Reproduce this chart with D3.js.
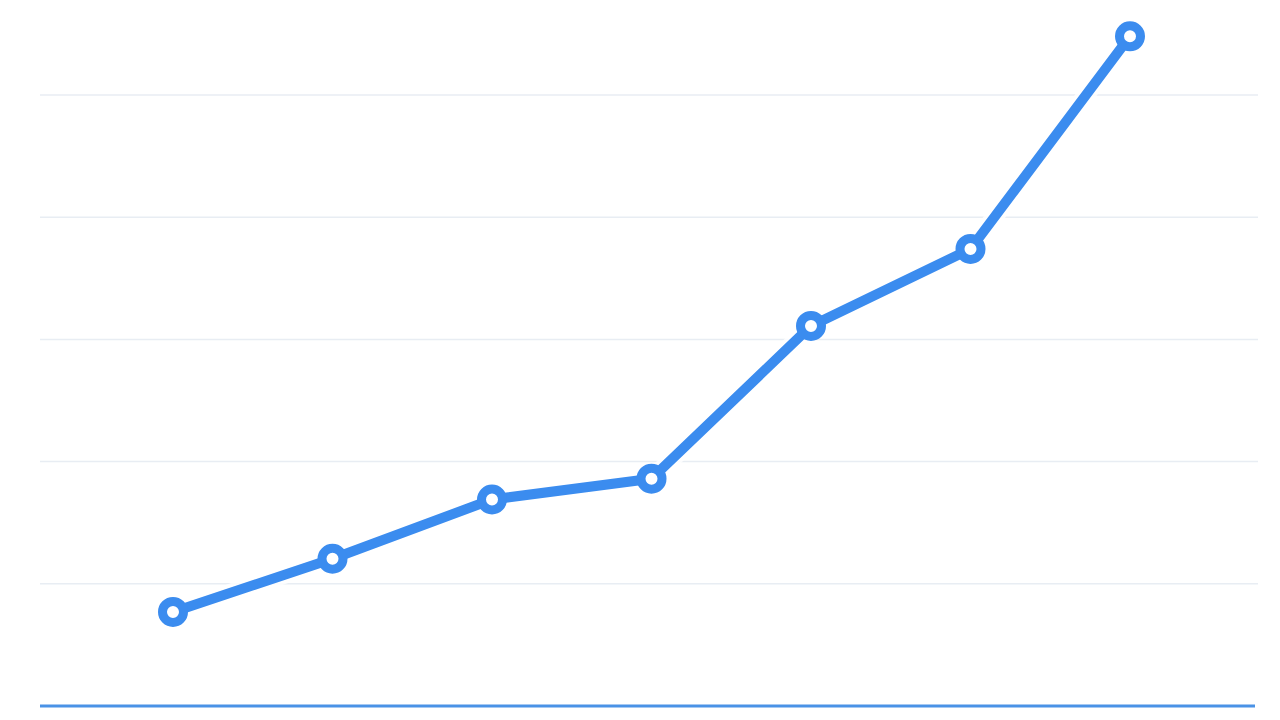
<!DOCTYPE html>
<html>
<head>
<meta charset="utf-8">
<script src="https://cdn.jsdelivr.net/npm/d3@7"></script>
<style>
	html, body {margin: 0; padding: 0; background: #fff;}
	svg {display: block;}
</style>
</head>
<body>
<div id="chart"></div>
<script>
//Data
var categories = ["1", "2", "3", "4", "5", "6", "7"];
var values = [15.4, 24.1, 33.8, 37.2, 62.2, 74.8, 109.6];
var gridTicks = [20, 40, 60, 80, 100];

//Sizing
var width = 1280, height = 720;
var margin = {top: 0, right: 22, bottom: 14, left: 40};

var svg = d3.select('#chart').append('svg')
	.attr('width', width)
	.attr('height', height);

//Scales
var x = d3.scalePoint()
	.domain(categories)
	.range([173, 1130]);
var y = d3.scaleLinear()
	.domain([0, 100])
	.range([706, 95]);

//Grid lines
svg.append('g')
	.attr('class', 'grid')
	.selectAll('line')
	.data(gridTicks)
	.enter().append('line')
		.attr('x1', margin.left)
		.attr('x2', width - margin.right)
		.attr('y1', function(d){return y(d);})
		.attr('y2', function(d){return y(d);})
		.attr('stroke', '#e8edf3')
		.attr('stroke-width', 1.5);

//Baseline
svg.append('line')
	.attr('x1', margin.left)
	.attr('x2', 1255)
	.attr('y1', y(0))
	.attr('y2', y(0))
	.attr('stroke', '#4a92e6')
	.attr('stroke-width', 3);

//Line
var line = d3.line()
	.x(function(d, i){return x(categories[i]);})
	.y(function(d){return y(d);});

svg.append('path')
	.datum(values)
	.attr('d', line)
	.attr('fill', 'none')
	.attr('stroke', '#fff')
	.attr('stroke-width', 18)
	.attr('stroke-linejoin', 'round')
	.attr('opacity', 0.8);

svg.append('path')
	.datum(values)
	.attr('d', line)
	.attr('fill', 'none')
	.attr('stroke', '#3b8cef')
	.attr('stroke-width', 10)
	.attr('stroke-linejoin', 'round');

//Markers
svg.append('g')
	.selectAll('circle')
	.data(values)
	.enter().append('circle')
		.attr('cx', function(d, i){return x(categories[i]);})
		.attr('cy', function(d){return y(d);})
		.attr('r', 10.5)
		.attr('fill', '#fff')
		.attr('stroke', '#3b8cef')
		.attr('stroke-width', 9);
</script>
</body>
</html>
